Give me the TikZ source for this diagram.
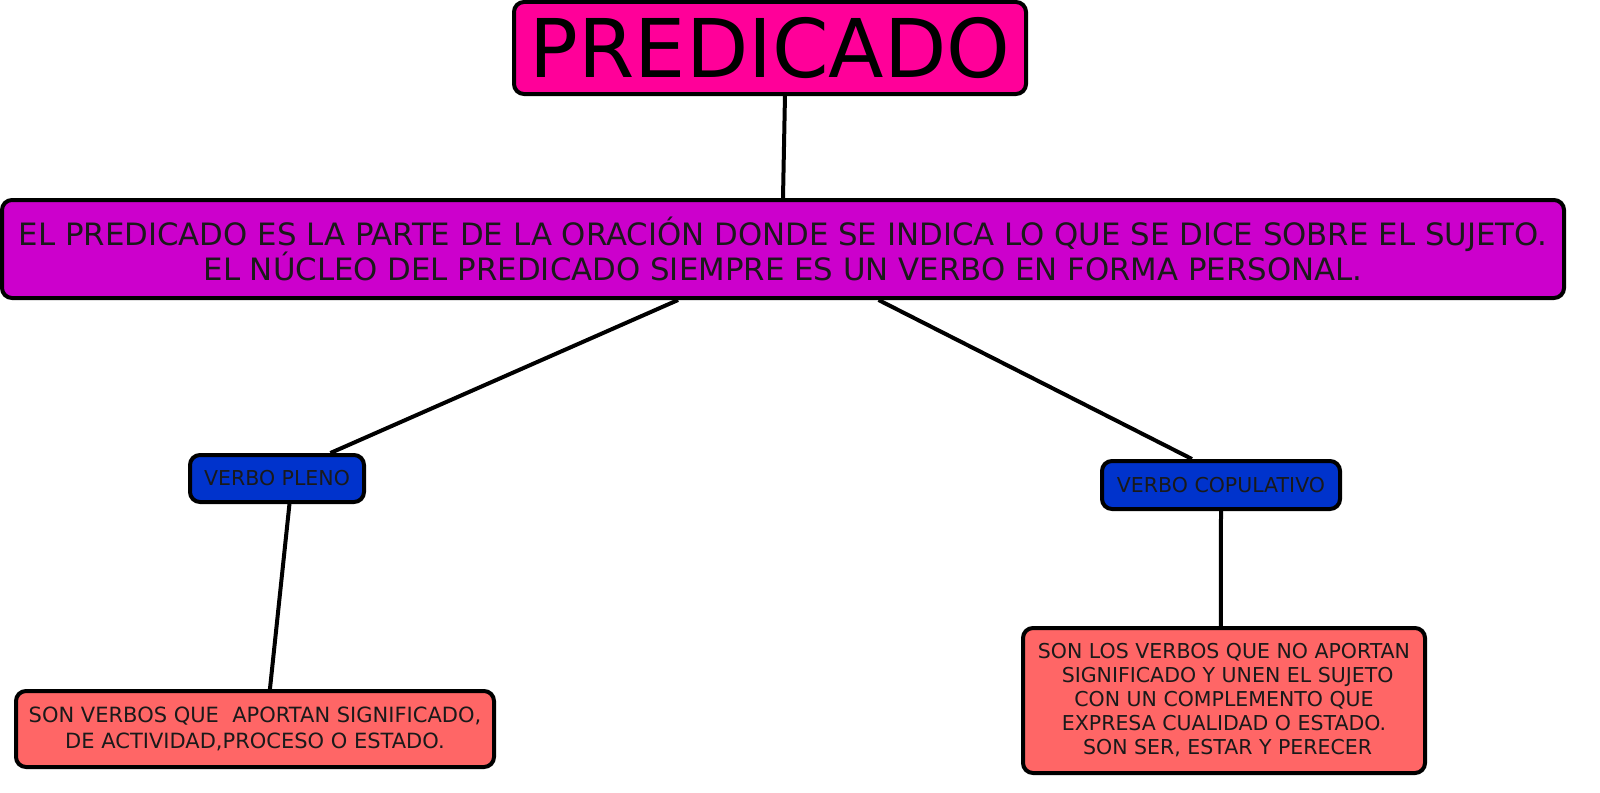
\documentclass[tikz,border=0pt]{standalone}
\usepackage{fontspec}
\setmainfont{DejaVu Sans}
\usetikzlibrary{calc}
\definecolor{topc}{HTML}{FF0099}
\definecolor{mainc}{HTML}{CC00CC}
\definecolor{bluec}{HTML}{0033CC}
\definecolor{redc}{HTML}{FF6666}
\definecolor{txt}{HTML}{1A1A1A}
\tikzset{
  box/.style={draw=black, line width=4pt, rounded corners=10pt, inner sep=0pt, align=center, text=txt},
  conn/.style={draw=black, line width=4pt}
}
\begin{document}
\begin{tikzpicture}[x=1pt,y=-1pt]
\useasboundingbox (0,0) rectangle (1600,792);
\node[box, fill=topc, minimum width=512pt, minimum height=92pt, text=black, font=\fontsize{81}{96}\selectfont] (top) at (770,48) {PREDICADO};
\node[box, fill=mainc, minimum width=1562pt, minimum height=98pt, font=\fontsize{30.8}{33}\selectfont] (main) at (783,249) {EL PREDICADO ES LA PARTE DE LA ORACIÓN DONDE SE INDICA LO QUE SE DICE SOBRE EL SUJETO.\\EL NÚCLEO DEL PREDICADO SIEMPRE ES UN VERBO EN FORMA PERSONAL.};
\node[box, fill=bluec, minimum width=174pt, minimum height=47pt, font=\fontsize{20.5}{24}\selectfont] (vp) at (277,478.5) {VERBO PLENO};
\node[box, fill=bluec, minimum width=238pt, minimum height=48pt, font=\fontsize{20.5}{24}\selectfont] (vc) at (1221,485) {VERBO COPULATIVO};
\node[box, fill=redc, minimum width=478pt, minimum height=76pt, font=\fontsize{21}{26}\selectfont] (lr) at (255,729) {SON VERBOS QUE \ APORTAN SIGNIFICADO,\\DE ACTIVIDAD,PROCESO O ESTADO.};
\node[box, fill=redc, minimum width=402pt, minimum height=145pt, font=\fontsize{20.5}{24}\selectfont] (rr) at (1224,700.5) {SON LOS VERBOS QUE NO APORTAN\\\hspace*{0.35em}SIGNIFICADO Y UNEN EL SUJETO\\CON UN COMPLEMENTO QUE\\EXPRESA CUALIDAD O ESTADO.\\\hspace*{0.35em}SON SER, ESTAR Y PERECER};
\draw[conn] ($(top.south west)!0.529!(top.south east)$) -- ($(main.north west)!0.500!(main.north east)$);
\draw[conn] ($(main.south west)!0.433!(main.south east)$) -- ($(vp.north west)!0.80!(vp.north east)$);
\draw[conn] ($(main.south west)!0.561!(main.south east)$) -- ($(vc.north west)!0.38!(vc.north east)$);
\draw[conn] ($(vp.south west)!0.57!(vp.south east)$) -- ($(lr.north west)!0.531!(lr.north east)$);
\draw[conn] (vc.south) -- ($(rr.north west)!0.492!(rr.north east)$);
\end{tikzpicture}
\end{document}
